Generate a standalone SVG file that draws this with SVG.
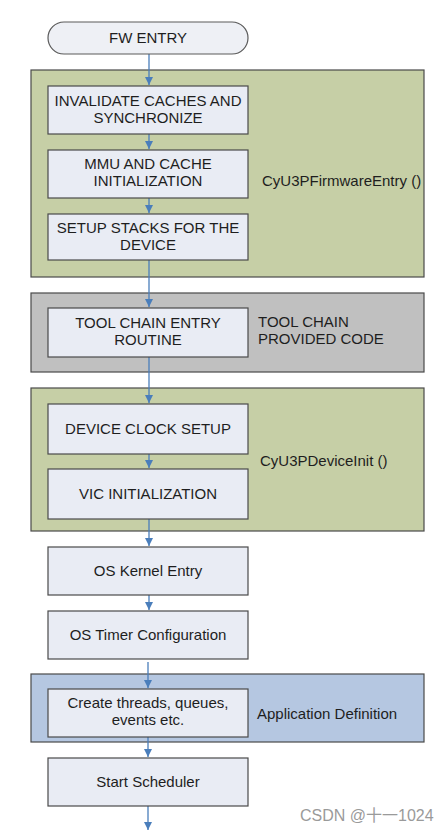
<svg xmlns="http://www.w3.org/2000/svg" width="447" height="832" viewBox="0 0 447 832">
<style>
text{font-family:"Liberation Sans",Arial,sans-serif;font-size:15px;fill:#1e1e1e}
.c{text-anchor:middle}
.box{fill:#e9ecf4;stroke:#4a4a4a;stroke-width:1.2}
.grp{stroke:#4a4a4a;stroke-width:1.2}
.green{fill:#c6cfa6}
.gray{fill:#c0c0c0}
.blue{fill:#b5c7e1}
.con{stroke:#4a7ebb;stroke-width:1.3;fill:none}
.wm{font-size:16px;fill:#9a9a9a;font-family:"Liberation Sans","Noto Sans CJK SC",sans-serif}
</style>
<defs>
<marker id="ah" viewBox="0 0 10 10" refX="10" refY="5" markerWidth="8" markerHeight="8" markerUnits="userSpaceOnUse" orient="auto">
<path d="M0,0 L10,5 L0,10 z" fill="#4a7ebb"/>
</marker>
</defs>
<rect width="447" height="832" fill="#ffffff"/>
<g id="grp-firmware"><rect class="grp green" x="31" y="70" width="393" height="207"/><text x="262" y="186">CyU3PFirmwareEntry ()</text></g>
<g id="grp-toolchain"><rect class="grp gray" x="31" y="293" width="393" height="79"/><text x="258" y="327">TOOL CHAIN</text><text x="258" y="344">PROVIDED CODE</text></g>
<g id="grp-deviceinit"><rect class="grp green" x="31" y="388" width="393" height="143"/><text x="260" y="466">CyU3PDeviceInit ()</text></g>
<g id="grp-appdef"><rect class="grp blue" x="31" y="674" width="393" height="68"/><text x="257" y="719">Application Definition</text></g>
<g id="connectors">
<line class="con" x1="149" y1="54" x2="149" y2="85" marker-end="url(#ah)"/>
<line class="con" x1="149" y1="134" x2="149" y2="149" marker-end="url(#ah)"/>
<line class="con" x1="149" y1="198" x2="149" y2="213" marker-end="url(#ah)"/>
<line class="con" x1="149" y1="260" x2="149" y2="307" marker-end="url(#ah)"/>
<line class="con" x1="149" y1="357" x2="149" y2="403" marker-end="url(#ah)"/>
<line class="con" x1="149" y1="454" x2="149" y2="468" marker-end="url(#ah)"/>
<line class="con" x1="149" y1="519" x2="149" y2="546" marker-end="url(#ah)"/>
<line class="con" x1="149" y1="595" x2="149" y2="610" marker-end="url(#ah)"/>
<line class="con" x1="148" y1="662" x2="148" y2="688" marker-end="url(#ah)"/>
<line class="con" x1="148" y1="737" x2="148" y2="757" marker-end="url(#ah)"/>
<line class="con" x1="148" y1="806" x2="148" y2="830" marker-end="url(#ah)"/>
</g>
<g id="fw-entry"><rect x="48" y="22" width="200" height="32" rx="16" ry="16" fill="#eef0f5" stroke="#5a5a5a" stroke-width="1.2"/><text class="c" x="148" y="43">FW ENTRY</text></g>
<g id="invalidate"><rect class="box" x="48" y="86" width="200" height="48"/><text class="c" x="148" y="106">INVALIDATE CACHES AND</text><text class="c" x="148" y="123">SYNCHRONIZE</text></g>
<g id="mmu"><rect class="box" x="48" y="150" width="200" height="48"/><text class="c" x="148" y="169">MMU AND CACHE</text><text class="c" x="148" y="186">INITIALIZATION</text></g>
<g id="stacks"><rect class="box" x="48" y="214" width="200" height="46"/><text class="c" x="148" y="233">SETUP STACKS FOR THE</text><text class="c" x="148" y="250">DEVICE</text></g>
<g id="toolchain-entry"><rect class="box" x="48" y="308" width="200" height="49"/><text class="c" x="148" y="328">TOOL CHAIN ENTRY</text><text class="c" x="148" y="345">ROUTINE</text></g>
<g id="clock"><rect class="box" x="48" y="404" width="200" height="50"/><text class="c" x="148" y="434">DEVICE CLOCK SETUP</text></g>
<g id="vic"><rect class="box" x="48" y="469" width="200" height="50"/><text class="c" x="148" y="499">VIC INITIALIZATION</text></g>
<g id="kernel"><rect class="box" x="48" y="547" width="200" height="48"/><text class="c" x="148" y="576">OS Kernel Entry</text></g>
<g id="timer"><rect class="box" x="48" y="611" width="200" height="48"/><text class="c" x="148" y="640">OS Timer Configuration</text></g>
<g id="create"><rect class="box" x="48" y="689" width="200" height="48"/><text class="c" x="148" y="708">Create threads, queues,</text><text class="c" x="148" y="725">events etc.</text></g>
<g id="scheduler"><rect class="box" x="48" y="758" width="200" height="48"/><text class="c" x="148" y="787">Start Scheduler</text></g>
<text class="wm" x="300" y="821">CSDN @十一1024</text>
</svg>
